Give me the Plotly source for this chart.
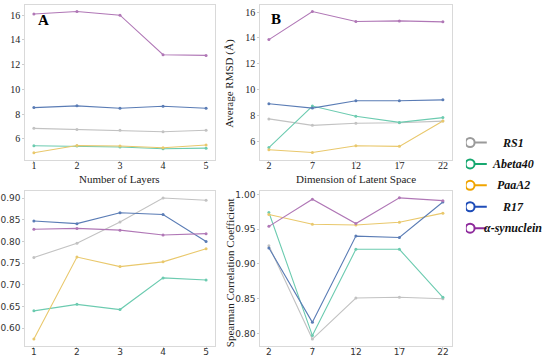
import plotly.graph_objects as go

W, H = 550, 357

layers = [1, 2, 3, 4, 5]
latent = [2, 7, 12, 17, 22]
names = ["RS1", "Abeta40", "PaaA2", "R17", "α-synuclein"]

rmsd_layers_rs1 = [6.85, 6.75, 6.7, 6.58, 6.7]
rmsd_layers_abeta = [5.44, 5.42, 5.35, 5.2, 5.25]
rmsd_layers_paaa2 = [4.88, 5.47, 5.42, 5.28, 5.5]
rmsd_layers_r17 = [8.53, 8.67, 8.48, 8.64, 8.48]
rmsd_layers_asyn = [16.1, 16.3, 16.0, 12.8, 12.75]

rmsd_latent_rs1 = [7.72, 7.22, 7.38, 7.42, 7.55]
rmsd_latent_abeta = [5.5, 8.72, 7.92, 7.45, 7.82]
rmsd_latent_paaa2 = [5.33, 5.12, 5.64, 5.59, 7.55]
rmsd_latent_r17 = [8.9, 8.56, 9.13, 9.13, 9.2]
rmsd_latent_asyn = [13.87, 16.05, 15.28, 15.32, 15.25]

sp_layers_rs1 = [0.763, 0.796, 0.845, 0.90, 0.895]
sp_layers_abeta = [0.64, 0.655, 0.643, 0.716, 0.711]
sp_layers_paaa2 = [0.575, 0.764, 0.742, 0.753, 0.783]
sp_layers_r17 = [0.847, 0.841, 0.866, 0.862, 0.80]
sp_layers_asyn = [0.828, 0.83, 0.826, 0.815, 0.818]

sp_latent_rs1 = [0.926, 0.792, 0.851, 0.852, 0.85]
sp_latent_abeta = [0.974, 0.797, 0.921, 0.921, 0.852]
sp_latent_paaa2 = [0.971, 0.957, 0.956, 0.960, 0.973]
sp_latent_r17 = [0.923, 0.816, 0.940, 0.938, 0.989]
sp_latent_asyn = [0.954, 0.993, 0.958, 0.995, 0.991]

line_colors = ["#c2c2c2", "#6ccbb0", "#e9c86c", "#5a7cb5", "#b077b6"]
legend_colors = ["#9a9a9a", "#17a870", "#f0a400", "#1f4db8", "#8e2a9c"]

panels = [
    ("x", "y", layers, [rmsd_layers_rs1, rmsd_layers_abeta, rmsd_layers_paaa2, rmsd_layers_r17, rmsd_layers_asyn]),
    ("x2", "y2", latent, [rmsd_latent_rs1, rmsd_latent_abeta, rmsd_latent_paaa2, rmsd_latent_r17, rmsd_latent_asyn]),
    ("x3", "y3", layers, [sp_layers_rs1, sp_layers_abeta, sp_layers_paaa2, sp_layers_r17, sp_layers_asyn]),
    ("x4", "y4", latent, [sp_latent_rs1, sp_latent_abeta, sp_latent_paaa2, sp_latent_r17, sp_latent_asyn]),
]

fig = go.Figure()
for xa, ya, xs, series in panels:
    for i, vals in enumerate(series):
        fig.add_trace(go.Scatter(
            x=xs, y=vals, xaxis=xa, yaxis=ya, mode="lines+markers",
            line=dict(color=line_colors[i], width=1.1),
            marker=dict(color=line_colors[i], size=3),
            name=names[i], showlegend=False, hoverinfo="skip"))

# Legend drawn in its own hidden axes (row index -> vertical slot)
legend_rows = list(range(len(names)))
for i, n in enumerate(names):
    fig.add_trace(go.Scatter(
        x=[0, 1], y=[legend_rows[i]] * 2, xaxis="x5", yaxis="y5", mode="lines",
        line=dict(color=legend_colors[i], width=2), showlegend=False, hoverinfo="skip"))
    fig.add_trace(go.Scatter(
        x=[0], y=[legend_rows[i]], xaxis="x5", yaxis="y5", mode="markers",
        marker=dict(symbol="circle", size=9, color="white",
                    line=dict(width=2, color=legend_colors[i])),
        showlegend=False, hoverinfo="skip"))
    fig.add_annotation(xref="paper", yref="y5", x=513 / W, y=legend_rows[i], text=f"<b><i>{n}</i></b>",
                       showarrow=False, xanchor="center", yanchor="middle",
                       font=dict(family="Liberation Serif", size=12, color="#111111"))


def px_x(a, b):
    return [a / W, b / W]


def px_y(top, bottom):
    return [1 - bottom / H, 1 - top / H]


sans_tick = dict(family="DejaVu Sans", size=9, color="#333333")
serif_tick = dict(family="Liberation Serif", size=10, color="#222222")
base = dict(showline=True, mirror=True, linecolor="#d9d9d9", linewidth=1,
            showgrid=False, zeroline=False, ticks="outside", ticklen=2, tickcolor="#cccccc")
top_y = dict(base, tickfont=serif_tick)
top_x = dict(base, tickfont=serif_tick, ticklabelstandoff=-6)
bot_y = dict(base, tickfont=sans_tick)
bot_x = dict(base, tickfont=sans_tick, ticklabelstandoff=-4)

hidden = dict(visible=False, showgrid=False, zeroline=False, fixedrange=True)

fig.update_layout(
    width=W, height=H, margin=dict(l=0, r=0, t=0, b=0),
    paper_bgcolor="white", plot_bgcolor="white", showlegend=False,
    xaxis=dict(domain=px_x(19.5, 211), range=[0.8, 5.2], anchor="y", tickvals=layers, **top_x),
    yaxis=dict(domain=px_y(2.7, 159.5), range=[4.28, 16.85], anchor="x", tickvals=[6, 8, 10, 12, 14, 16], **top_y),
    xaxis2=dict(domain=px_x(257, 450.5), range=[1, 23], anchor="y2", tickvals=latent, **top_x),
    yaxis2=dict(domain=px_y(2.7, 159.5), range=[4.52, 16.58], anchor="x2", tickvals=[6, 8, 10, 12, 14, 16], **top_y),
    xaxis3=dict(domain=px_x(19.5, 211), range=[0.8, 5.2], anchor="y3", tickvals=layers, **bot_x),
    yaxis3=dict(domain=px_y(190.7, 346.5), range=[0.56, 0.916], anchor="x3",
                tickvals=[0.60, 0.65, 0.70, 0.75, 0.80, 0.85, 0.90], tickformat=".2f", **bot_y),
    xaxis4=dict(domain=px_x(257, 450.5), range=[1, 23], anchor="y4", tickvals=latent, **bot_x),
    yaxis4=dict(domain=px_y(190.7, 346.5), range=[0.7826, 1.0047], anchor="x4",
                tickvals=[0.80, 0.85, 0.90, 0.95, 1.00], tickformat=".2f", **bot_y),
    xaxis5=dict(domain=px_x(465, 492), range=[-0.25, 1.35], anchor="y5", **hidden),
    yaxis5=dict(domain=px_y(130.9, 238.9), range=[4.5, -0.5], anchor="x5", **hidden),
)

title_font = dict(family="Liberation Serif", size=11, color="#222222")
ann = [
    dict(text="Number of Layers", x=115 / W, y=1 - 179 / H, textangle=0),
    dict(text="Dimension of Latent Space", x=354 / W, y=1 - 179 / H, textangle=0),
    dict(text="Average RMSD (Å)", x=226 / W, y=1 - 82 / H, textangle=-90),
    dict(text="Spearman Correlation Coefficient", x=226 / W, y=1 - 273 / H, textangle=-90),
]
for a in ann:
    fig.add_annotation(xref="paper", yref="paper", showarrow=False, font=title_font,
                       xanchor="center", yanchor="middle", **a)

letter_font = dict(family="Liberation Serif", size=15, color="#000000", weight="bold")
fig.add_annotation(xref="paper", yref="paper", x=38 / W, y=1 - 18 / H, text="A",
                   showarrow=False, font=letter_font, xanchor="center", yanchor="middle")
fig.add_annotation(xref="paper", yref="paper", x=273 / W, y=1 - 17 / H, text="B",
                   showarrow=False, font=letter_font, xanchor="center", yanchor="middle")

fig.write_html("out.html", config={"displayModeBar": False},
               post_script="document.body.style.margin='0px';document.body.style.overflow='hidden';")
